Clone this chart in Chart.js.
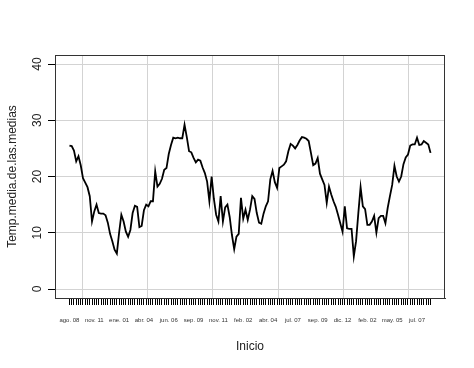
<!DOCTYPE html>
<html>
<head>
<meta charset="utf-8">
<script src="https://cdn.jsdelivr.net/npm/chart.js@4.4.1/dist/chart.umd.min.js"></script>
<style>
  html, body { margin: 0; padding: 0; background: #fff; }
  #wrap { width: 474px; height: 368px; }
</style>
</head>
<body>
<div id="wrap"><canvas id="grafico" width="474" height="368"></canvas></div>
<script>
// temperatura media semanal
const temps = [
  25.5, 25.4, 24.6, 22.7, 23.6, 22.0, 19.7, 18.9, 18.1, 16.5,
  12.0, 13.8, 15.0, 13.5, 13.4, 13.4, 13.1, 11.8, 9.8, 8.5,
  7.0, 6.3, 10.0, 13.2, 12.0, 10.2, 9.3, 10.5, 13.5, 14.8,
  14.6, 11.0, 11.2, 14.0, 15.0, 14.7, 15.6, 15.6, 20.9, 18.2,
  18.7, 19.6, 21.2, 21.5, 24.0, 25.6, 26.9, 26.8, 26.9, 26.8,
  26.8, 29.2, 27.0, 24.5, 24.3, 23.3, 22.5, 23.0, 22.8, 21.6,
  20.6, 19.1, 15.6, 20.0, 16.0, 13.2, 12.0, 16.5, 12.0, 14.5,
  15.0, 12.8, 9.6, 7.1, 9.3, 9.8, 16.2, 12.5, 14.1, 12.3,
  14.1, 16.5, 16.0, 13.5, 11.8, 11.6, 13.4, 14.7, 15.6, 19.5,
  21.0, 19.0, 18.0, 21.5, 21.8, 22.1, 22.7, 24.5, 25.8, 25.5,
  25.0, 25.6, 26.4, 27.0, 26.9, 26.7, 26.3, 24.2, 22.0, 22.3,
  23.3, 20.5, 19.5, 18.5, 15.3, 18.2, 16.8, 15.6, 14.6, 13.2,
  11.7, 10.2, 14.7, 10.8, 10.7, 10.7, 5.8, 8.5, 13.5, 18.1,
  14.7, 14.2, 11.4, 11.4, 12.0, 13.0, 10.0, 12.6, 13.0, 13.0,
  11.7, 14.4, 16.5, 18.5, 21.9, 20.0, 19.1, 20.0, 22.2, 23.4,
  23.9, 25.5, 25.7, 25.7, 26.9, 25.6, 25.7, 26.3, 26.0, 25.7,
  24.2
];

const tickLabels = ["ago. 08", "nov. 11", "ene. 01", "abr. 04", "jun. 06",
  "sep. 09", "nov. 11", "feb. 02", "abr. 04", "jul. 07",
  "sep. 09", "dic. 12", "feb. 02", "may. 05", "jul. 07"];
const labelEvery = 11;   // una etiqueta cada 11 semanas
const xGrid = [5.95, 34.8, 63.6, 92.5, 121.4, 150.3];
const yTicks = [0, 10, 20, 30, 40];

const xMin = -0.04 * (temps.length - 1);
const xMax = (temps.length - 1) * 1.04;

Chart.defaults.font.family = "'Liberation Sans', Arial, sans-serif";
Chart.defaults.color = '#222';

const marco = {
  id: 'marco',
  beforeDatasetsDraw(chart) {
    const { ctx, chartArea: a } = chart;
    ctx.save();
    ctx.strokeStyle = '#333';
    ctx.lineWidth = 1;
    ctx.strokeRect(a.left + 0.5, a.top + 0.5, a.right - a.left - 1, a.bottom - a.top);
    ctx.restore();
  }
};

new Chart(document.getElementById('grafico'), {
  type: 'line',
  data: {
    datasets: [{
      data: temps.map((v, i) => ({ x: i, y: v })),
      borderColor: '#000',
      borderWidth: 1.8,
      pointRadius: 0,
      tension: 0,
      fill: false
    }]
  },
  options: {
    responsive: false,
    animation: false,
    devicePixelRatio: 1,
    layout: { padding: { top: 55, right: 29, left: 0, bottom: 0 } },
    plugins: { legend: { display: false }, tooltip: { enabled: false } },
    scales: {
      xg: {
        type: 'linear', position: 'bottom', min: xMin, max: xMax,
        afterBuildTicks: s => { s.ticks = xGrid.map(v => ({ value: v })) },
        afterFit: s => { s.height = 0 },
        grid: { color: '#d3d3d3', drawTicks: false },
        border: { display: false },
        ticks: { display: false }
      },
      x: {
        type: 'linear', position: 'bottom', min: xMin, max: xMax,
        afterBuildTicks: s => { s.ticks = temps.map((v, i) => ({ value: i })) },
        afterFit: s => { s.height = 70 },
        grid: { drawOnChartArea: false, tickColor: '#000', tickLength: 7 },
        border: { color: '#333' },
        ticks: {
          autoSkip: false, minRotation: 0, maxRotation: 0, padding: 12,
          font: { size: 6 }, color: '#333',
          callback: v => (v % labelEvery === 0 ? tickLabels[v / labelEvery] : '')
        },
        title: { display: true, text: 'Inicio', font: { size: 12 }, padding: { bottom: 14 } }
      },
      y: {
        min: -1.6, max: 41.6,
        afterBuildTicks: s => { s.ticks = yTicks.map(v => ({ value: v })) },
        afterFit: s => { s.width = 55 },
        grid: { color: '#d3d3d3', tickColor: '#000', tickLength: 7 },
        border: { color: '#333' },
        ticks: { minRotation: 90, maxRotation: 90, crossAlign: 'center', padding: 4, font: { size: 12 } },
        title: { display: true, text: 'Temp.media.de.las.medias', font: { size: 12 }, padding: { top: 5 } }
      }
    }
  },
  plugins: [marco]
});
</script>
</body>
</html>
